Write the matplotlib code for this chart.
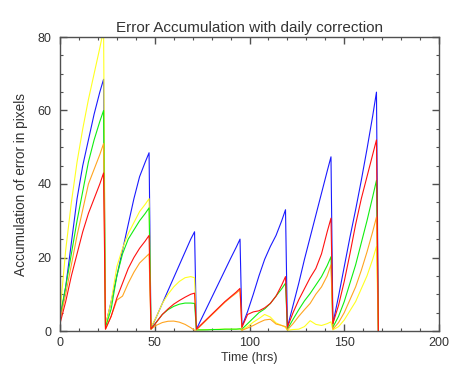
import numpy as np
import matplotlib
matplotlib.use('Agg')
import matplotlib.pyplot as plt
from matplotlib.ticker import MultipleLocator

plt.rcParams['font.family'] = ['Liberation Sans', 'DejaVu Sans']

# 每天从 DAY_STARTS 开始, 在 HOURS 偏移处读数, 每天结束时清零
DAY_STARTS = [0, 24, 48, 72, 96, 120, 144]
HOURS = [0, 3, 6, 9, 12, 15, 18, 21, 23]
FINAL_TIME = 168

blue = [
    [3, 12, 24, 36, 45, 52, 59, 65, 68.5],
    [1.5, 8, 15, 22, 29, 36, 42, 46, 48.5],
    [0.7, 4, 7.5, 11, 14.5, 18, 21.5, 25, 27],
    [0.5, 3.7, 6.9, 10.1, 13.3, 16.5, 19.7, 22.8, 25],
    [1.2, 5.3, 10, 15, 19.5, 23, 26, 30, 33],
    [1, 7, 13, 19.5, 25.5, 31.5, 37.5, 43.5, 47.4],
    [2, 9.5, 17.5, 25.5, 33, 41, 49.5, 58.5, 65],
]
yellow = [
    [5, 22, 35, 46, 55, 63, 70, 77, 82],
    [1.5, 8, 17.5, 22.5, 26.5, 29.5, 32.5, 34.5, 36],
    [1, 4, 7.5, 10, 12, 13.5, 14.5, 14.8, 14.5],
    [0.3, 0.3, 0.4, 0.4, 0.5, 0.5, 0.5, 0.5, 0.5],
    [0.2, 1.2, 2.4, 3.4, 4.5, 3.8, 2.2, 1.5, 1],
    [0.2, 0.4, 0.5, 1.2, 2.8, 1.8, 1.5, 2, 2.5],
    [0.3, 1.2, 3, 5.5, 8, 11.5, 15, 19.5, 23],
]
green = [
    [4, 12, 21, 30, 38, 46, 52, 57, 60],
    [1, 6, 15, 21, 25, 27.5, 30, 32, 33.5],
    [0.5, 2.5, 4.5, 5.8, 6.7, 7.3, 7.6, 7.6, 7.5],
    [0.3, 0.3, 0.3, 0.4, 0.4, 0.5, 0.5, 0.5, 0.6],
    [0.5, 2, 3.5, 5, 6, 7.5, 9.5, 11.5, 13],
    [0.5, 3.2, 5.8, 8.2, 10.2, 12.5, 14.8, 17.8, 20.2],
    [1, 4, 8, 13, 18, 24, 30, 36.5, 41],
]
orange = [
    [3, 10, 18, 26, 33, 40, 44, 48, 51],
    [0.5, 4, 8.4, 9.5, 13, 16, 18.5, 20, 21],
    [0.5, 1.6, 2.3, 2.65, 2.7, 2.4, 1.8, 0.9, 0.2],
    [0.3, 1.8, 3.3, 4.8, 6.3, 7.8, 9.1, 10.3, 11.2],
    [0.2, 0.8, 1.5, 2.3, 3, 3.2, 1.9, 1.5, 1.2],
    [0.3, 2, 4, 5.8, 7.5, 10, 12, 15, 18],
    [0.5, 2.3, 5, 8.5, 12, 16.5, 21.5, 27, 31],
]
red = [
    [2, 8, 15, 21, 27, 32, 36, 40, 43],
    [0.5, 4, 9, 13, 17, 20, 22.5, 24.5, 26],
    [0.5, 2.5, 4.5, 6, 7.3, 8.3, 9.2, 10, 10.3],
    [0.5, 2, 3.5, 5, 6.5, 8, 9.3, 10.6, 11.6],
    [1, 4.5, 5.2, 5.5, 6.3, 7.5, 9.5, 12.5, 14.8],
    [1, 5, 8.5, 11.5, 14.5, 17, 21, 27, 30.7],
    [2, 7, 13.5, 21, 29, 36, 42, 48, 52],
]

series = [
    (blue, '#1a1aff'),
    (yellow, '#ffff20'),
    (green, '#10ee10'),
    (orange, '#ffa520'),
    (red, '#ff1010'),
]


def build_curve(days):
    """把每天的读数拼成一条连续曲线"""
    t, v = [], []
    for start, vals in zip(DAY_STARTS, days):
        t.extend(start + h for h in HOURS)
        v.extend(vals)
    t.append(FINAL_TIME)
    v.append(0)
    return np.array(t), np.array(v)


fig = plt.figure(figsize=(4.74, 3.79), dpi=100)
ax = fig.add_axes([60 / 474, 1 - 331 / 379, 379 / 474, 294 / 379])

for days, color in series:
    t, v = build_curve(days)
    ax.plot(t, v, color=color, linewidth=0.8)

ax.set_xlim(0, 200)
ax.set_ylim(0, 80)
ax.xaxis.set_major_locator(MultipleLocator(50))
ax.xaxis.set_minor_locator(MultipleLocator(10))
ax.yaxis.set_major_locator(MultipleLocator(20))
ax.yaxis.set_minor_locator(MultipleLocator(5))

frame = '#505050'
text_color = '#333333'
for s in ax.spines.values():
    s.set_color(frame)
    s.set_linewidth(1.0)
ax.tick_params(which='both', direction='in', top=True, right=True,
               color=frame, labelcolor=text_color, labelsize=9)
ax.tick_params(which='major', length=5, width=1)
ax.tick_params(which='minor', length=2.5, width=0.8)
ax.tick_params(axis='x', pad=4.5)
ax.tick_params(axis='y', pad=6)

ax.set_xlabel('Time (hrs)', fontsize=9, color=text_color, labelpad=2)
ax.set_ylabel('Accumulation of error in pixels', fontsize=9.8, color=text_color, labelpad=7)
fig.text(0.526, 1 - 28 / 379, 'Error Accumulation with daily correction',
         ha='center', va='center', fontsize=11, color=text_color)

plt.savefig('out.png', dpi=100)
